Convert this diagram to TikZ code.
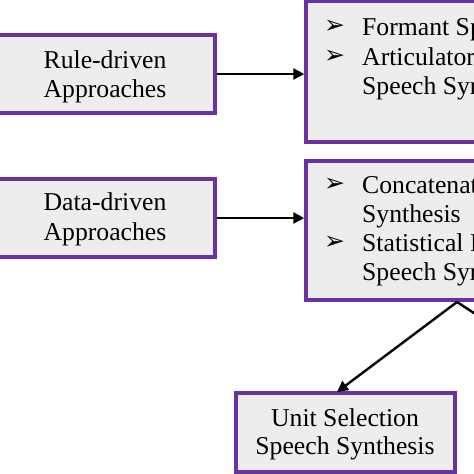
\documentclass[tikz,border=0pt]{standalone}
\usepackage{fontspec}
\setmainfont{Liberation Serif}
\newfontfamily\symfont{DejaVu Sans}
\usetikzlibrary{arrows.meta}
\definecolor{boxfill}{HTML}{EDEDED}
\definecolor{boxline}{HTML}{6A32A0}
\tikzset{
  box/.style={draw=boxline, line width=3.4pt, fill=boxfill, rectangle, inner sep=0pt},
  lbl/.style={font=\fontsize{25.7}{29}\selectfont, inner sep=0pt, anchor=base},
  lbll/.style={font=\fontsize{25.7}{29}\selectfont, inner sep=0pt, anchor=base west},
  bul/.style={font=\symfont\fontsize{25}{25}\selectfont, inner sep=0pt, anchor=west},
  conn/.style={line width=2.4pt, -{Triangle[length=11pt,width=11pt]}},
  plain/.style={line width=2.4pt}
}
\begin{document}
\begin{tikzpicture}[x=1pt,y=-1pt]
\useasboundingbox (0,0) rectangle (474,474);
\clip (0,0) rectangle (474,474);
% boxes
\node[box, minimum width=222pt, minimum height=78pt] (rule) at (104,74) {};
\node[box, minimum width=294pt, minimum height=141pt] (formal) at (453,71.5) {};
\node[box, minimum width=222pt, minimum height=78pt] (data) at (104,218) {};
\node[box, minimum width=294pt, minimum height=139pt] (stat) at (453,230.5) {};
\node[box, minimum width=219pt, minimum height=79pt] (unit) at (345.5,432.5) {};
% texts
\node[lbl] (t1a) at (105,68) {Rule-driven};
\node[lbl] (t1b) at (105,97) {Approaches};
\node[lbl] (t3a) at (105,210) {Data-driven};
\node[lbl] (t3b) at (105,240) {Approaches};
\node[lbl] (t5a) at (345,426) {Unit Selection};
\node[lbl] (t5b) at (345,454) {Speech Synthesis};
\node[bul] (b2a) at (324,26.5) {➢};
\node[lbll] (t2a) at (362,35) {Formant Speech Synthesis};
\node[bul] (b2b) at (324,56.5) {➢};
\node[lbll] (t2b) at (362,65) {Articulatory};
\node[lbll] (t2c) at (362,94) {Speech Synthesis};
\node[bul] (b4a) at (324,184.5) {➢};
\node[lbll] (t4a) at (362,193) {Concatenative};
\node[lbll] (t4b) at (362,222) {Synthesis};
\node[bul] (b4b) at (324,242.5) {➢};
\node[lbll] (t4c) at (362,251) {Statistical Parametric};
\node[lbll] (t4d) at (362,280) {Speech Synthesis};
% connectors
\draw[conn] (rule.east) -- (rule.east -| formal.west);
\draw[conn] (data.east) -- (data.east -| stat.west);
\coordinate (apex) at (457,302);
\coordinate (unittop) at (337,392);
\coordinate (rightend) at (500,330);
\draw[conn] (apex) -- (unittop);
\draw[plain] (apex) -- (rightend);
\end{tikzpicture}
\end{document}
